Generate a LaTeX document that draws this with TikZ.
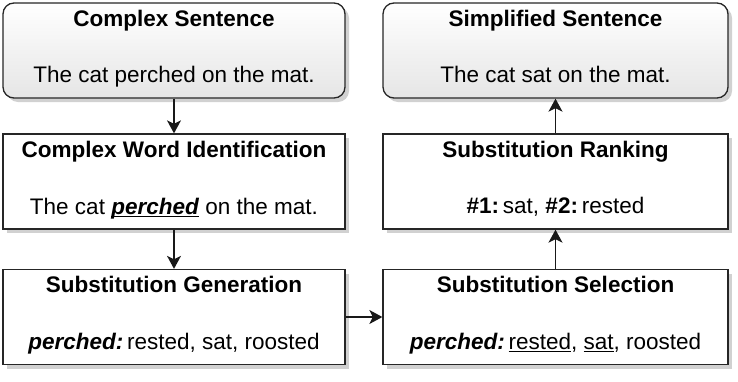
\documentclass[tikz,border=0pt]{standalone}
\usepackage{fontspec}
\setmainfont{Liberation Sans}
\usetikzlibrary{arrows.meta,shadows}
\newcommand{\myul}[1]{\setbox0\hbox{#1}\rlap{\rule[-3pt]{\wd0}{1.3pt}}\box0\relax}
\begin{document}
\begin{tikzpicture}[x=1pt,y=-1pt,
  box/.style={draw=black!85, line width=1.3pt, fill=white, minimum height=95pt, inner sep=0pt,
    drop shadow={shadow xshift=4pt, shadow yshift=-4pt, fill=black!18, opacity=1}},
  lbox/.style={box, minimum width=342pt},
  rgbox/.style={box, minimum width=345pt},
  rbox/.style={rounded corners=11pt, top color=white, bottom color=black!10},
  lbl/.style={anchor=base, inner sep=0pt, font=\fontsize{22.5}{26}\selectfont},
  conn/.style={line width=1.4pt, draw=black!90, -{Stealth[length=13pt,width=14pt,inset=3.5pt]}}]
\useasboundingbox (0,0) rectangle (738,381);

% boxes
\node[lbox, rbox] (cs) at (174,50.5) {};
\node[rgbox, rbox] (ss) at (555.5,50.5) {};
\node[lbox] (cwi) at (174,181.5) {};
\node[rgbox] (rank) at (555.5,181.5) {};
\node[lbox] (gen) at (174,317) {};
\node[rgbox] (sel) at (555.5,317) {};

% texts
\node[lbl] (cs-t) at (174,26) {\textbf{Complex Sentence}};
\node[lbl] (cs-b) at (174,82) {The cat perched on the mat.};
\node[lbl] (ss-t) at (555.5,26) {\textbf{Simplified Sentence}};
\node[lbl] (ss-b) at (555.5,82) {The cat sat on the mat.};
\node[lbl] (cwi-t) at (174,157) {\textbf{Complex Word Identification}};
\node[lbl] (cwi-b) at (174,214) {The cat \myul{\textbf{\textit{perched}}} on the mat.};
\node[lbl] (rank-t) at (555.5,157) {\textbf{Substitution Ranking}};
\node[lbl] (rank-b) at (555.5,213) {\textbf{\#1:}\,sat, \textbf{\#2:}\,rested};
\node[lbl] (gen-t) at (174,292) {\textbf{Substitution Generation}};
\node[lbl] (gen-b) at (174,349) {\textbf{\textit{perched:}}\,rested, sat, roosted};
\node[lbl] (sel-t) at (555.5,292) {\textbf{Substitution Selection}};
\node[lbl] (sel-b) at (555.5,349) {\textbf{\textit{perched:}}\,\myul{rested}, \myul{sat}, roosted};

% connectors
\draw[conn] (cs) -- (cwi);
\draw[conn] (cwi) -- (gen);
\draw[conn] (gen) -- (sel);
\draw[conn] (sel) -- (rank);
\draw[conn] (rank) -- (ss);
\end{tikzpicture}
\end{document}
